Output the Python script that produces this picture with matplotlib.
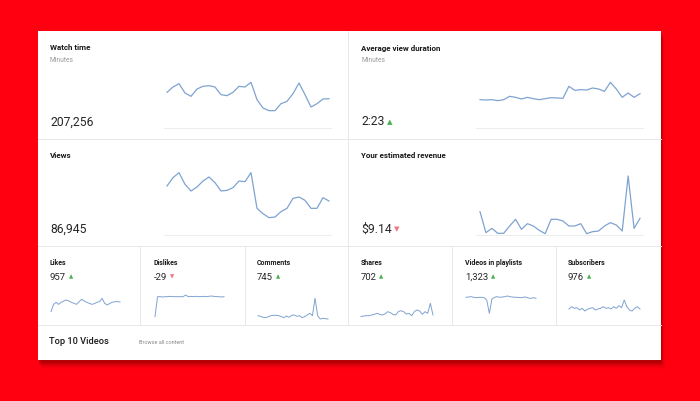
import matplotlib
matplotlib.use("Agg")
import matplotlib.pyplot as plt
from matplotlib.patches import Rectangle
from matplotlib.lines import Line2D

plt.rcParams['font.family'] = ['Roboto', 'DejaVu Sans']

W, H = 700, 401
RED = '#fe0010'
LINE = '#7fa3d1'
GRID = '#e8e8e8'

# ---------- data (relative heights) ----------
watch_time = [107,123,133,105,95,117,125,127,123,100,97,107,125,123,137,85,60,52,52,73,80,103,135,100,63,73,87,88]
avg_view = [85,84,85,82,85,95,92,87,92,88,85,88,91,90,89,125,113,115,114,120,117,110,137,117,92,105,92,103]
views = [147,172,187,152,132,144,162,174,157,132,134,142,162,160,187,80,64,52,54,70,80,110,114,104,80,80,112,102]
revenue = [70,7,20,5,5,27,47,17,34,27,14,4,47,47,42,27,27,34,4,10,12,27,37,30,12,177,20,50]

likes_y = [200,178,172,178,172,168,165,168,172,175,178,170,163,168,172,175,178,176,172,170,160,175,180,175,172,170,170,171]
dislikes_y = [215,155,155,156,155,155,154,155,155,155,155,155,150,155,154,155,154,155,155,154,155,154,153,154,155,155,156,155]
comments_y = [212,214,217,218,215,212,211,211,212,215,218,213,217,211,210,214,212,218,215,210,205,212,160,212,222,220,221,222]
shares_y = [215,213,212,212,210,208,205,208,210,207,200,203,208,210,200,197,200,207,205,212,200,195,198,208,200,205,175,210]
playlists_y = [157,156,155,157,158,157,157,158,165,205,162,157,155,157,156,155,153,155,156,157,157,158,157,156,159,160,158,160]
subscribers_y = [192,185,190,188,195,190,198,193,190,188,195,192,190,185,190,188,192,185,190,182,188,165,185,195,198,190,185,192]

big_titles = ['Watch time', 'Average view duration', 'Views', 'Your estimated revenue']
big_subtitles = ['Minutes', 'Minutes', '', '']
big_values = ['207,256', '2:23', '86,945', '$9.14']
big_trend = [None, 'up', None, 'down']

small_titles = ['Likes', 'Dislikes', 'Comments', 'Shares', 'Videos in playlists', 'Subscribers']
small_values = ['957', '-29', '745', '702', '1,323', '976']
small_trend = ['up', 'down', 'up', 'up', 'up', 'up']

# ---------- figure ----------
fig = plt.figure(figsize=(W/100, H/100), dpi=100)
fig.patch.set_facecolor(RED)

def fx(x): return x / W
def fy(y): return 1 - y / H

def rect(x0, y0, x1, y1, **kw):
    fig.patches.append(Rectangle((fx(x0), fy(y1)), (x1-x0)/W, (y1-y0)/H,
                                 transform=fig.transFigure, zorder=0.1, **kw))

def hline(x0, x1, y, color=GRID, lw=0.7):
    fig.lines.append(Line2D([fx(x0), fx(x1)], [fy(y), fy(y)], transform=fig.transFigure,
                            color=color, lw=lw, zorder=0.5))

def vline(x, y0, y1, color=GRID, lw=0.7):
    fig.lines.append(Line2D([fx(x), fx(x)], [fy(y0), fy(y1)], transform=fig.transFigure,
                            color=color, lw=lw, zorder=0.5))

# shadow
for i, a in enumerate([0.14, 0.11, 0.08, 0.06, 0.04, 0.03, 0.02]):
    d = i + 1
    rect(38 + d * 0.6, 31 + d + 1, 661 + d * 0.6, 360 + d + 2, facecolor='#500000', alpha=a, edgecolor='none')
# card
rect(38, 31, 661, 360, facecolor='white', edgecolor='none')

# dividers
hline(38, 661, 139)
hline(38, 661, 246)
hline(38, 661, 325)
vline(348, 31, 246)
for x in [140, 245, 348, 452, 556]:
    vline(x, 246, 325)

renderer = fig.canvas.get_renderer()

def value_with_trend(x, y, txt, trend, size, tri_size, gap):
    t = fig.text(fx(x), fy(y), txt, ha='left', va='center', fontsize=size, color='#262626')
    if trend:
        bb = t.get_window_extent(renderer)
        xr = bb.x1 / fig.dpi / fig.get_figwidth() + gap / W
        sym, col = ('▲', '#4caf50') if trend == 'up' else ('▼', '#ef7a80')
        fig.text(xr, fy(y), sym, ha='left', va='center', fontsize=tri_size, color=col,
                 family=['DejaVu Sans'])

# big cells
big_pos = [(50, 48), (361, 48), (50, 156), (361, 156)]
big_val_y = [122, 122, 229, 229]
for (x, y), title, sub, val, tr, vy in zip(big_pos, big_titles, big_subtitles, big_values, big_trend, big_val_y):
    fig.text(fx(x), fy(y), title, ha='left', va='center', fontsize=5.8, weight='bold', color='#1a1a1a')
    if sub:
        fig.text(fx(x), fy(y + 13), sub, ha='left', va='center', fontsize=4.8, color='#9a9a9a')
    value_with_trend(x, vy, val, tr, 8.7, 5.2, 2.5)

# small cells
small_x = [50, 154, 257, 361, 465, 568]
for x, title, val, tr in zip(small_x, small_titles, small_values, small_trend):
    fig.text(fx(x), fy(263), title, ha='left', va='center', fontsize=5.0, weight='bold', color='#1a1a1a')
    value_with_trend(x, 277, val, tr, 6.8, 4.0, 2.5)

fig.text(fx(49), fy(341), 'Top 10 Videos', ha='left', va='center', fontsize=6.7, weight='medium', color='#1a1a1a')
fig.text(fx(139), fy(342), 'Browse all content', ha='left', va='center', fontsize=4.0, color='#8a8a8a')

# sparklines
def spark(x0, x1, base_px, values, top_units, baseline=None, lw=0.9):
    hpx = top_units / 3.0
    ax = fig.add_axes([fx(x0), fy(base_px), (x1 - x0) / W, hpx / H])
    ax.set_zorder(3)
    ax.set_axis_off()
    ax.patch.set_alpha(0)
    ax.plot(range(len(values)), values, color=LINE, lw=lw, clip_on=False, solid_joinstyle='round')
    ax.set_xlim(0, len(values) - 1)
    ax.set_ylim(0, top_units)
    if baseline:
        bx0, bx1 = baseline
        hline(bx0, bx1, base_px, color='#ececec', lw=0.7)
    return ax

spark(167, 329, 128, watch_time, 150, baseline=(164, 331))
spark(480, 640, 128, avg_view, 150, baseline=(476, 643))
spark(167, 329, 235, views, 200, baseline=(164, 331))
spark(480, 640, 235, revenue, 200, baseline=(476, 643))

def inv(lst, base=225):
    return [base - v for v in lst]

spark(51, 120, 320, inv(likes_y), 80, lw=0.7)
spark(155, 224, 320, inv(dislikes_y), 80, lw=0.7)
spark(258, 328, 320, inv(comments_y), 80, lw=0.7)
spark(361, 433, 320, inv(shares_y), 80, lw=0.7)
spark(466, 536, 320, inv(playlists_y), 80, lw=0.7)
spark(569, 640, 320, inv(subscribers_y), 80, lw=0.7)

fig.savefig('out.png', dpi=100, facecolor=RED)
